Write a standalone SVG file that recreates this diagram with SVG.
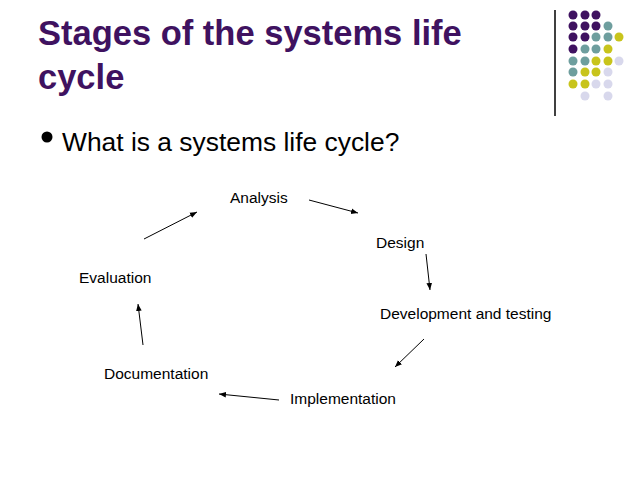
<svg xmlns="http://www.w3.org/2000/svg" width="638" height="479" viewBox="0 0 638 479">
<style>
.t{font-family:"Liberation Sans",Arial,sans-serif}
.n{font-size:15.5px;fill:#000}
.c{stroke:#000;stroke-width:1;fill:none;marker-end:url(#a)}
.p{fill:#3f1260}.q{fill:#6e9e9e}.y{fill:#c8c41c}.l{fill:#d8d8ec}
</style>
<defs><marker id="a" viewBox="0 0 10 10" refX="10" refY="5" markerWidth="7" markerHeight="7" orient="auto"><path d="M0,1 L10,5 L0,9 z" fill="#000"/></marker></defs>
<rect width="638" height="479" fill="#fff"/>
<text class="t" x="38" y="45" font-size="34.5" font-weight="bold" fill="#3f1260">Stages of the systems life</text>
<text class="t" x="38" y="89" font-size="34.5" font-weight="bold" fill="#3f1260">cycle</text>
<circle cx="47" cy="137" r="5.5" fill="#000"/>
<text class="t" x="62" y="151" font-size="26.4">What is a systems life cycle?</text>
<line x1="555" y1="10" x2="555" y2="116" stroke="#000" stroke-width="1.5"/>
<g id="dots">
<circle class="p" cx="573" cy="15" r="4.5"/><circle class="p" cx="585" cy="15" r="4.5"/><circle class="p" cx="596" cy="15" r="4.5"/>
<circle class="p" cx="573" cy="26" r="4.5"/><circle class="p" cx="585" cy="26" r="4.5"/><circle class="p" cx="596" cy="26" r="4.5"/><circle class="q" cx="608" cy="26" r="4.5"/>
<circle class="p" cx="573" cy="37" r="4.5"/><circle class="p" cx="585" cy="37" r="4.5"/><circle class="q" cx="596" cy="37" r="4.5"/><circle class="q" cx="608" cy="37" r="4.5"/><circle class="y" cx="619" cy="37" r="4.5"/>
<circle class="p" cx="573" cy="49" r="4.5"/><circle class="q" cx="585" cy="49" r="4.5"/><circle class="q" cx="596" cy="49" r="4.5"/><circle class="y" cx="608" cy="49" r="4.5"/>
<circle class="q" cx="573" cy="61" r="4.5"/><circle class="q" cx="585" cy="61" r="4.5"/><circle class="y" cx="596" cy="61" r="4.5"/><circle class="y" cx="608" cy="61" r="4.5"/><circle class="l" cx="619" cy="61" r="4.5"/>
<circle class="q" cx="573" cy="72" r="4.5"/><circle class="y" cx="585" cy="72" r="4.5"/><circle class="y" cx="596" cy="72" r="4.5"/><circle class="l" cx="608" cy="72" r="4.5"/>
<circle class="y" cx="573" cy="84" r="4.5"/><circle class="y" cx="585" cy="84" r="4.5"/><circle class="l" cx="596" cy="84" r="4.5"/><circle class="l" cx="608" cy="84" r="4.5"/>
<circle class="l" cx="585" cy="96" r="4.5"/><circle class="l" cx="608" cy="96" r="4.5"/>
</g>
<g id="analysis"><text class="t n" x="230" y="203">Analysis</text></g>
<g id="design"><text class="t n" x="376" y="248">Design</text></g>
<g id="dev"><text class="t n" x="380" y="319">Development and testing</text></g>
<g id="impl"><text class="t n" x="290" y="404">Implementation</text></g>
<g id="doc"><text class="t n" x="104" y="379">Documentation</text></g>
<g id="eval"><text class="t n" x="79" y="283">Evaluation</text></g>
<g id="connectors">
<line class="c" x1="309" y1="200" x2="358" y2="213"/>
<line class="c" x1="426" y1="254" x2="430" y2="290"/>
<line class="c" x1="424" y1="339" x2="395" y2="367"/>
<line class="c" x1="279" y1="400" x2="219" y2="394"/>
<line class="c" x1="143" y1="345" x2="138" y2="304"/>
<line class="c" x1="144" y1="239" x2="197" y2="212"/>
</g>
</svg>
